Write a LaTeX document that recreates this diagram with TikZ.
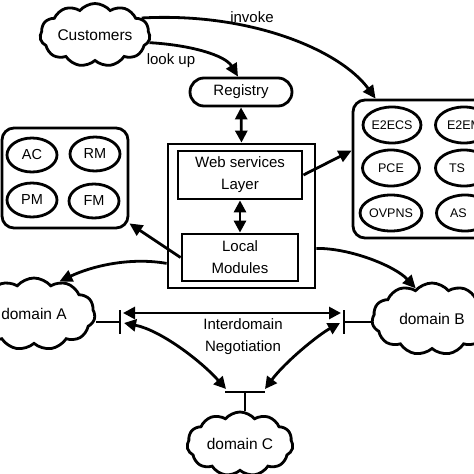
\documentclass[tikz,border=0pt]{standalone}
\usepackage{fontspec}
\setmainfont{Liberation Sans}
\usetikzlibrary{shapes.geometric,shapes.symbols,arrows.meta}
\begin{document}
\begin{tikzpicture}[x=1pt,y=-1pt,line width=2.8pt,
  lbl/.style={font=\fontsize{15}{22}\selectfont},
  box/.style={draw,inner sep=0,align=center,font=\fontsize{15}{22}\selectfont},
  ovalL/.style={draw,ellipse,inner sep=0,minimum width=50pt,minimum height=34pt,font=\fontsize{14.5}{16}\selectfont},
  ovalR/.style={draw,ellipse,inner sep=0,minimum width=57pt,minimum height=36pt,font=\fontsize{12.5}{14}\selectfont},
  cloudnode/.style={draw,cloud,cloud puffs=11,cloud puff arc=100,cloud ignores aspect,inner sep=0,font=\fontsize{15.5}{18}\selectfont},
  tip/.style={-{Triangle[length=13pt,width=12pt]}},
  dtip/.style={{Triangle[length=12pt,width=12pt]}-{Triangle[length=12pt,width=12pt]}},
  bar/.style={line width=2.8pt}]
\useasboundingbox (0,0) rectangle (474,474);
\fill[white] (0,0) rectangle (474,474);
\clip (0,0) rectangle (474,474);

% clouds
\node[cloudnode,minimum width=110pt,minimum height=63pt] (cust) at (95,35) {Customers};
\node[cloudnode,minimum width=122pt,minimum height=72pt] (domA) at (34,314) {domain A};
\node[cloudnode,minimum width=120pt,minimum height=72pt] (domB) at (432,319) {domain B};
\node[cloudnode,minimum width=106pt,minimum height=64pt] (domC) at (240,444) {domain C};

% registry
\node[box,rounded corners=14pt,minimum width=102pt,minimum height=28pt] (reg) at (241,92) {Registry};

% central boxes
\node[draw,minimum width=147pt,minimum height=144pt,inner sep=0] (outer) at (241.5,216) {};
\node[box,minimum width=124pt,minimum height=48pt] (web) at (240,175) {Web services\\Layer};
\node[box,minimum width=116pt,minimum height=47pt] (loc) at (240,257.5) {Local\\Modules};

% left container
\node[draw,rounded corners=12pt,minimum width=126pt,minimum height=100pt,inner sep=0] (lc) at (65,178) {};
\node[ovalL] (ac) at (32,155) {AC};
\node[ovalL] (rm) at (95,154) {RM};
\node[ovalL] (pm) at (32,200) {PM};
\node[ovalL] (fm) at (94,201) {FM};

% right container
\node[draw,rounded corners=12pt,minimum width=147pt,minimum height=138pt,inner sep=0] (rc) at (426.5,169) {};
\node[ovalR] (e2ecs) at (392,125) {E2ECS};
\node[ovalR,text width=34pt,align=left] (e2em) at (464,125) {E2EM};
\node[ovalR] (pce) at (391,168) {PCE};
\node[ovalR,text width=30pt,align=left] (ts) at (464,168) {TS};
\node[ovalR] (ovpns) at (391,213) {OVPNS};
\node[ovalR,text width=30pt,align=left] (as) at (465,213) {AS};

% labels
\node[lbl] (linv) at (252,17) {invoke};
\node[lbl] (llook) at (171,61) {look up};
\node[lbl,align=center] (lneg) at (243,337) {Interdomain\\Negotiation};

% arrows top
\draw[tip] (cust.20) .. controls (250,12) and (340,50) .. ([xshift=24pt]rc.north west);
\draw[tip] (cust.-8) .. controls (190,45) and (225,55) .. ([xshift=-3pt]reg.north);
\draw[dtip] (reg.south) -- (outer.north);
\draw[dtip] (web.south) -- (loc.north);
\draw[tip] (web.east) -- ([yshift=-52pt]rc.north west);
\draw[tip] (loc.west) -- ([yshift=6pt]lc.south east);
\draw[tip] ([yshift=26pt]outer.south west) .. controls (130,257) and (92,266) .. (domA.52);
\draw[tip] ([yshift=41pt]outer.south east) .. controls (350,248) and (395,266) .. (domB.118);

% interdomain bars
\coordinate (ta) at (120,322);
\coordinate (tb) at (344,322);
\coordinate (tc) at (245,392);
\draw[bar] ([yshift=12pt]ta) -- ([yshift=-12pt]ta);
\draw[bar] ([yshift=12pt]tb) -- ([yshift=-12pt]tb);
\draw[bar] ([xshift=-20pt]tc) -- ([xshift=20pt]tc);
\draw (ta) -- (ta -| domA.east);
\draw (tb) -- (tb -| domB.west);
\draw (tc) -- (tc |- domC.north);
\draw[dtip] ([shift={(3pt,9pt)}]ta) -- ([shift={(-3pt,9pt)}]tb);
\draw[dtip] ([shift={(4pt,-1pt)}]ta) .. controls (160,330) and (200,360) .. ([shift={(-19pt,3pt)}]tc);
\draw[dtip] ([shift={(-4pt,-1pt)}]tb) .. controls (318,335) and (285,362) .. ([shift={(20pt,3pt)}]tc);
\end{tikzpicture}
\end{document}
